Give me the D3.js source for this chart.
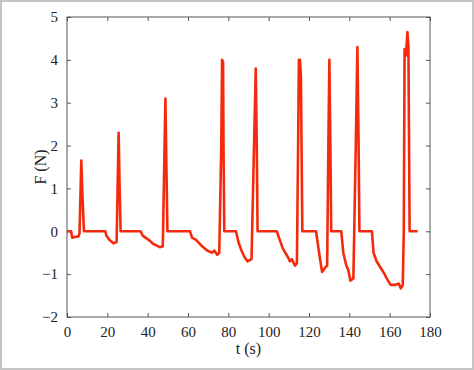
<!DOCTYPE html>
<html>
<head>
<meta charset="utf-8">
<script src="https://cdn.jsdelivr.net/npm/d3@7"></script>
<style>
  body { margin: 0; background: #fff; }
  svg { display: block; }
  svg text { font-family: "Liberation Serif", "DejaVu Serif", serif !important; }
</style>
</head>
<body>
<div id="vis"></div>
<script>
// data
var tValues = [0, 2, 2.6, 4, 5.6, 6.2, 7.1, 7.6, 8.4, 19, 19.5, 21, 23, 24.6, 25.6, 26.1, 26.6,
  36.5, 37.5, 40.5, 43, 46, 47.5, 48.8, 49.3, 49.8,
  61, 62, 64, 67, 69.5, 72, 73, 74.5, 75.5, 76.5, 76.9, 77.4, 77.6, 78,
  83.8, 85, 86.5, 88, 89.5, 91.5, 92.5, 93.6, 94.1, 94.5,
  104, 105.5, 107, 109.5, 110.5, 111.5, 113, 114, 114.6, 115, 115.5, 116, 116.4, 116.7,
  123.5, 125, 126.5, 128, 129, 129.6, 130.1, 130.6, 131,
  136, 137, 138.5, 139.5, 140.5, 142, 143.2, 144, 144.6, 145,
  151.2, 152, 153.5, 155.5, 157.5, 158.5, 160.5, 163, 164.5, 165.5, 166.5, 167, 167.4, 168.1, 168.8, 169.3, 169.9, 173.9];
var fValues = [0, 0, -0.15, -0.13, -0.12, -0.05, 1.65, 0.9, 0, 0, -0.1, -0.2, -0.28, -0.25, 2.3, 1.0, 0,
  0, -0.1, -0.2, -0.3, -0.37, -0.35, 3.1, 1.5, 0,
  0, -0.15, -0.2, -0.35, -0.45, -0.5, -0.45, -0.55, -0.5, 2.0, 4.0, 3.95, 2.0, 0,
  0, -0.25, -0.45, -0.6, -0.7, -0.65, 1.5, 3.8, 2.0, 0,
  0, -0.2, -0.4, -0.6, -0.7, -0.65, -0.8, -0.75, 2.0, 4.0, 4.0, 3.6, 1.5, 0,
  0, -0.5, -0.95, -0.85, -0.8, 2.0, 4.0, 2.0, 0,
  0, -0.5, -0.8, -0.9, -1.15, -1.1, 2.0, 4.3, 2.0, 0,
  0, -0.5, -0.7, -0.85, -1.0, -1.1, -1.25, -1.25, -1.22, -1.33, -1.25, 0, 4.25, 4.1, 4.65, 4.3, 0, 0];
var xTicks = [0, 20, 40, 60, 80, 100, 120, 140, 160, 180];
var yTicks = [-2, -1, 0, 1, 2, 3, 4, 5];

var width = 474, height = 370;
var margin = {top: 17, right: 44, bottom: 53, left: 67};
var innerW = width - margin.left - margin.right;
var innerH = height - margin.top - margin.bottom;

var svg = d3.select("#vis").append("svg")
    .attr("width", width)
    .attr("height", height);

// outer frame
svg.append("rect").attr("width", width).attr("height", height).attr("fill", "#c4c4c4");
svg.append("rect").attr("x", 2).attr("y", 2)
    .attr("width", width - 4).attr("height", height - 4).attr("fill", "#fff");

var x = d3.scaleLinear().domain([0, 180]).range([0, innerW]);
var y = d3.scaleLinear().domain([-2, 5]).range([innerH, 0]);

var g = svg.append("g").attr("transform", "translate(" + margin.left + "," + margin.top + ")");

function styleAxis(sel, showText) {
    sel.attr("font-family", null).attr("font-size", null);
    sel.select(".domain").remove();
    sel.selectAll(".tick line").attr("stroke", "#555");
    sel.selectAll(".tick text")
        .style("font-size", "15px")
        .attr("fill", "#222")
        .style("display", showText ? null : "none");
}

g.append("g").attr("transform", "translate(0," + innerH + ")")
    .call(d3.axisBottom(x).tickValues(xTicks).tickFormat(d3.format("d")).tickSize(-4).tickPadding(9))
    .call(styleAxis, true);
g.append("g")
    .call(d3.axisTop(x).tickValues(xTicks).tickSize(-4))
    .call(styleAxis, false);
g.append("g")
    .call(d3.axisLeft(y).tickValues(yTicks).tickFormat(d3.format("d")).tickSize(-4).tickPadding(9))
    .call(styleAxis, true);
g.append("g").attr("transform", "translate(" + innerW + ",0)")
    .call(d3.axisRight(y).tickValues(yTicks).tickSize(-4))
    .call(styleAxis, false);

g.append("rect")
    .attr("width", innerW).attr("height", innerH)
    .attr("fill", "none").attr("stroke", "#555").attr("stroke-width", 1);

var line = d3.line()
    .x(function(d, i) { return x(tValues[i]); })
    .y(function(d) { return y(d); });

g.append("path")
    .datum(fValues)
    .attr("fill", "none")
    .attr("stroke", "#f52a0c")
    .attr("stroke-width", 2.6)
    .attr("stroke-linejoin", "round")
    .attr("d", line);

svg.append("text")
    .attr("x", margin.left + innerW / 2).attr("y", 354)
    .attr("text-anchor", "middle")
    .style("font-size", "16px").attr("fill", "#222")
    .text("t (s)");

svg.append("text")
    .attr("transform", "translate(46," + (margin.top + innerH / 2) + ") rotate(-90)")
    .attr("text-anchor", "middle")
    .style("font-size", "16px").attr("fill", "#222")
    .text("F (N)");
</script>
</body>
</html>
